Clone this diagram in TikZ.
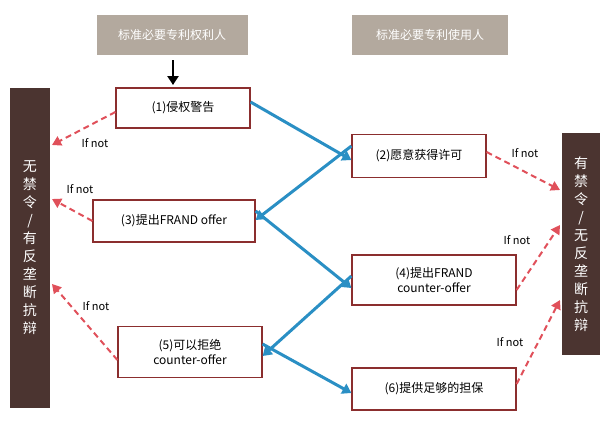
\documentclass[tikz,border=0pt]{standalone}
\usepackage{fontspec}
\setmainfont{Noto Sans CJK SC}
\usetikzlibrary{arrows.meta}
\definecolor{hdr}{HTML}{B3A99E}
\definecolor{bar}{HTML}{4B3430}
\definecolor{bx}{HTML}{8B2E2E}
\definecolor{bl}{HTML}{2A8FC4}
\definecolor{rd}{HTML}{E0505A}
\tikzset{
 hbox/.style={fill=hdr,text=white,minimum width=151pt,minimum height=40pt,font=\fontsize{12}{14}\selectfont},
 sbar/.style={fill=bar,text=white,align=center,font=\fontsize{14}{18}\selectfont},
 sbox/.style={draw=bx,line width=1.2pt,fill=white,align=center,font=\fontsize{12}{15}\selectfont},
 barrow/.style={draw=bl,line width=3pt,-{Triangle[length=9pt,width=11pt]}},
 rarrow/.style={draw=rd,line width=2pt,dash pattern=on 6pt off 4pt,-{Triangle[length=9pt,width=10pt]}},
 lbl/.style={font=\fontsize{11}{13}\selectfont}
}
\begin{document}
\begin{tikzpicture}[x=1pt,y=-1pt]
\useasboundingbox (0,0) rectangle (608,432);
\node[hbox] (h1) at (172,35) {标准必要专利权利人};
\node[hbox,minimum width=156pt] (h2) at (430,35) {标准必要专利使用人};
\node[sbar,minimum width=40pt,minimum height=320pt] (L) at (30,248) {无\\禁\\令\\/\\有\\反\\垄\\断\\抗\\辩};
\node[sbar,minimum width=38pt,minimum height=222pt] (R) at (581,244) {有\\禁\\令\\/\\无\\反\\垄\\断\\抗\\辩};
\node[sbox,minimum width=134pt,minimum height=40pt] (b1) at (183,108) {(1)侵权警告};
\node[sbox,minimum width=134pt,minimum height=43pt] (b2) at (419,156) {(2)愿意获得许可};
\node[sbox,minimum width=162pt,minimum height=42pt] (b3) at (174,221) {(3)提出FRAND offer};
\node[sbox,minimum width=164pt,minimum height=50pt] (b4) at (434,280) {(4)提出FRAND\\counter-offer};
\node[sbox,minimum width=144pt,minimum height=51pt] (b5) at (190,352) {(5)可以拒绝\\counter-offer};
\node[sbox,minimum width=164pt,minimum height=42pt] (b6) at (434,389) {(6)提供足够的担保};
\coordinate (a0) at (173,85);
\draw[line width=2.5pt,-{Triangle[length=9pt,width=11pt]}] (173,60) -- (a0);
\draw[barrow] (b1.east) ++(0,-6) -- ([yshift=-4pt]b2.west);
\draw[barrow] ([yshift=10pt]b2.west) -- ([yshift=1pt]b3.east);
\draw[barrow] ([yshift=10pt]b3.east) -- ([yshift=-8pt]b4.west);
\draw[barrow] ([yshift=4pt]b4.west) -- ([yshift=-4pt]b5.east);
\draw[barrow] ([yshift=8pt]b5.east) -- ([yshift=-4pt]b6.west);
\draw[rarrow] ([yshift=-4pt]b1.west) -- (52,145);
\draw[rarrow] (b3.west) -- (52,199);
\draw[rarrow] ([yshift=-8pt]b5.west) -- (52,284);
\draw[rarrow] ([yshift=4pt]b2.east) -- (560,190);
\draw[rarrow] ([yshift=-10pt]b4.east) -- (560,225);
\draw[rarrow] ([yshift=5pt]b6.east) -- (560,300);
\node[lbl] (t1) at (95,143) {If not};
\node[lbl] (t2) at (80,189) {If not};
\node[lbl] (t3) at (96,306) {If not};
\node[lbl] (t4) at (525,153) {If not};
\node[lbl] (t5) at (517,240) {If not};
\node[lbl] (t6) at (510,342) {If not};
\end{tikzpicture}
\end{document}
